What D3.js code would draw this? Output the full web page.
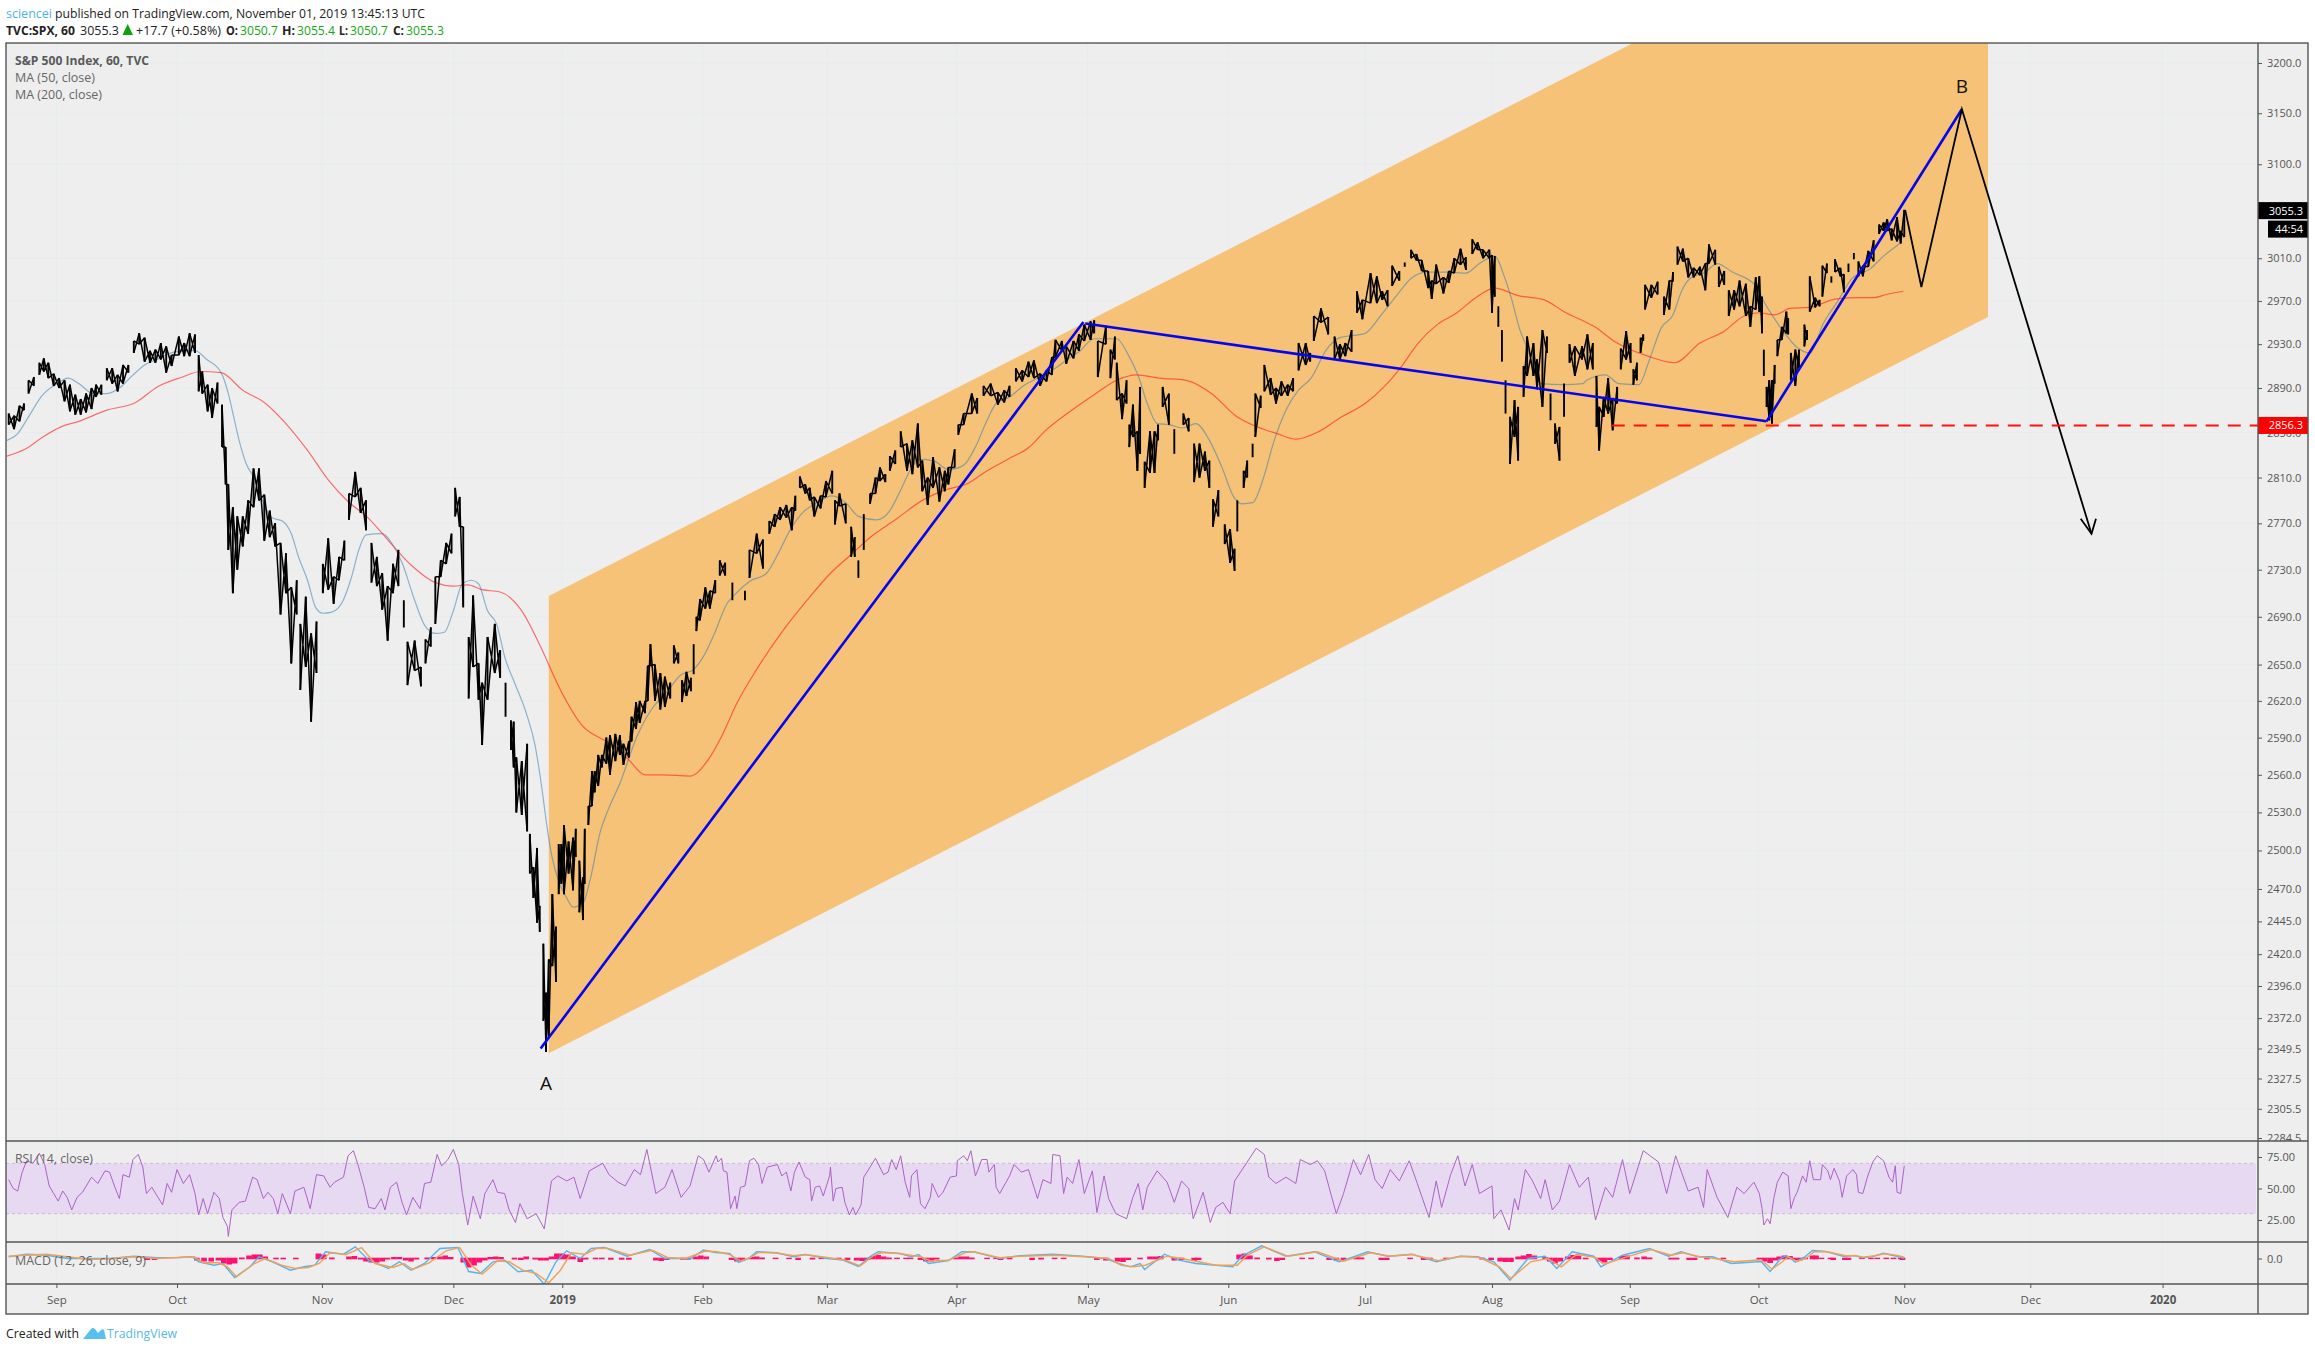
<!DOCTYPE html>
<html><head><meta charset="utf-8">
<script src="https://cdn.jsdelivr.net/npm/d3@7/dist/d3.min.js"></script>
<style>html,body{margin:0;padding:0;background:#fff}svg{display:block}text{font-family:"Open Sans",sans-serif}</style>
</head><body><svg id="c" width="2315" height="1351"></svg>
<script>
// ---- axis labels / ticks (x unit: hourly bar number since the left edge of the chart)
const monthBars=[56,190,351,497,618,774,912,1056,1202,1358,1510,1651,1804,1947,2109,2249,2396];
const monthLabels=["Sep","Oct","Nov","Dec","2019","Feb","Mar","Apr","May","Jun","Jul","Aug","Sep","Oct","Nov","Dec","2020"];
const priceTicks=[3200,3150,3100,3010,2970,2930,2890,2850,2810,2770,2730,2690,2650,2620,2590,2560,2530,2500,2470,2445,2420,2396,2372,2349.5,2327.5,2305.5,2284.5];
const rsiTicks=[75,50,25];
const macdTicks=[0];
// ---- sampled hourly price ranges: [bar, high, low]
const priceBars=[[3,2867,2857],[9,2865,2853],[15,2874,2860],[20,2876,2870],[25,2897,2885],[31,2900,2892],[37,2913,2902],[42,2917,2905],[47,2913,2899],[53,2903,2892],[59,2899,2890],[65,2897,2878],[71,2893,2869],[77,2884,2866],[83,2880,2866],[89,2885,2868],[95,2890,2871],[100,2893,2882],[106,2893,2884],[112,2908,2897],[118,2908,2894],[124,2902,2887],[130,2911,2894],[136,2911,2904],[142,2933,2922],[148,2940,2930],[154,2936,2914],[160,2924,2913],[166,2925,2913],[172,2931,2916],[178,2928,2904],[184,2920,2910],[192,2937,2920],[198,2931,2919],[204,2940,2919],[210,2939,2922],[214,2920,2887],[218,2905,2885],[224,2893,2869],[229,2890,2863],[235,2895,2876],[240,2875,2837],[244,2837,2804],[247,2804,2747],[252,2784,2710],[257,2776,2730],[263,2776,2750],[269,2790,2761],[275,2818,2784],[281,2818,2790],[287,2795,2755],[293,2781,2758],[299,2770,2750],[305,2753,2692],[311,2744,2710],[317,2715,2651],[323,2721,2692],[327,2684,2629],[333,2707,2648],[339,2676,2603],[345,2686,2643],[352,2735,2710],[358,2757,2713],[364,2724,2701],[370,2741,2721],[376,2755,2738],[381,2796,2773],[388,2815,2793],[394,2801,2779],[400,2790,2764],[406,2753,2719],[412,2741,2716],[418,2727,2696],[424,2716,2670],[430,2735,2710],[436,2747,2716],[442,2704,2681],[446,2669,2633],[454,2670,2645],[461,2648,2632],[466,2671,2651],[472,2681,2665],[477,2724,2684],[483,2738,2724],[489,2753,2735],[495,2761,2744],[499,2801,2776],[504,2793,2767],[508,2767,2698],[514,2673,2622],[519,2708,2648],[525,2651,2621],[529,2635,2584],[535,2673,2621],[543,2684,2643],[549,2662,2639],[555,2635,2607],[561,2604,2580],[564,2603,2566],[567,2574,2530],[573,2571,2528],[579,2585,2515],[582,2513,2482],[586,2487,2463],[590,2502,2444],[593,2457,2437],[597,2428,2370],[600,2391,2347],[603,2416,2358],[607,2466,2411],[611,2441,2399],[614,2505,2466],[617,2505,2474],[620,2520,2466],[625,2507,2482],[630,2510,2469],[633,2517,2495],[637,2492,2452],[641,2479,2446],[643,2517,2474],[647,2535,2520],[651,2563,2535],[654,2563,2546],[658,2576,2551],[662,2576,2566],[667,2590,2569],[671,2592,2560],[677,2593,2571],[682,2592,2576],[686,2585,2568],[692,2587,2574],[695,2607,2587],[700,2619,2597],[704,2620,2602],[710,2620,2610],[713,2649,2620],[716,2667,2649],[721,2650,2620],[727,2643,2613],[732,2640,2615],[738,2635,2622],[742,2666,2651],[747,2660,2651],[751,2637,2619],[756,2644,2624],[761,2639,2628],[764,2667,2642],[767,2690,2678],[771,2705,2687],[777,2715,2697],[782,2712,2697],[788,2721,2710],[793,2738,2725],[799,2736,2725],[807,2719,2704],[821,2712,2704],[826,2747,2723],[834,2761,2744],[841,2756,2731],[848,2772,2761],[854,2778,2767],[860,2784,2773],[867,2786,2775],[873,2784,2764],[877,2794,2781],[882,2811,2801],[888,2804,2796],[893,2801,2790],[898,2793,2776],[905,2794,2783],[911,2807,2793],[918,2816,2796],[921,2790,2769],[926,2796,2785],[933,2787,2770],[939,2767,2741],[943,2758,2741],[947,2738,2723],[953,2778,2747],[960,2796,2787],[966,2810,2796],[971,2819,2807],[977,2813,2806],[982,2829,2816],[988,2834,2822],[994,2851,2837],[1001,2840,2816],[1007,2843,2813],[1013,2858,2819],[1018,2825,2798],[1024,2810,2786],[1030,2828,2801],[1037,2819,2789],[1043,2816,2798],[1047,2819,2804],[1054,2835,2819],[1058,2857,2848],[1064,2867,2857],[1073,2885,2867],[1079,2881,2867],[1086,2892,2883],[1094,2894,2883],[1102,2886,2875],[1109,2888,2877],[1115,2892,2882],[1122,2908,2896],[1129,2906,2896],[1136,2914,2900],[1142,2915,2899],[1149,2903,2892],[1156,2906,2896],[1162,2918,2902],[1166,2934,2918],[1173,2933,2924],[1178,2928,2912],[1186,2933,2917],[1192,2939,2924],[1198,2948,2933],[1205,2951,2934],[1209,2952,2940],[1213,2933,2900],[1222,2947,2930],[1227,2925,2899],[1232,2937,2916],[1234,2913,2879],[1240,2885,2862],[1245,2897,2876],[1248,2857,2837],[1252,2875,2846],[1257,2851,2816],[1260,2891,2831],[1265,2824,2801],[1271,2851,2814],[1276,2851,2814],[1280,2857,2843],[1285,2891,2873],[1292,2885,2857],[1298,2853,2831],[1308,2867,2857],[1314,2863,2851],[1320,2840,2806],[1326,2840,2810],[1332,2833,2816],[1337,2825,2801],[1341,2791,2767],[1347,2799,2776],[1354,2769,2752],[1360,2765,2736],[1365,2748,2729],[1368,2790,2763],[1375,2816,2801],[1379,2825,2810],[1385,2840,2828],[1388,2885,2846],[1394,2883,2872],[1398,2911,2887],[1405,2899,2884],[1411,2890,2876],[1417,2896,2883],[1424,2893,2883],[1430,2899,2887],[1436,2931,2906],[1444,2931,2911],[1449,2922,2914],[1453,2956,2933],[1461,2963,2950],[1469,2955,2939],[1476,2937,2916],[1482,2930,2916],[1488,2931,2919],[1495,2943,2923],[1501,2979,2959],[1507,2971,2953],[1516,2996,2968],[1523,2993,2968],[1529,2979,2971],[1535,2980,2965],[1540,3003,2984],[1548,2998,2989],[1554,3006,3002],[1561,3018,3010],[1567,3014,3008],[1573,3008,2998],[1580,2998,2982],[1584,2989,2972],[1589,3004,2986],[1597,2992,2977],[1603,2998,2987],[1609,3010,2996],[1616,3019,3004],[1622,3011,2999],[1629,3028,3014],[1635,3025,3018],[1641,3018,3010],[1648,3018,3010],[1651,3013,2959],[1654,3012,2974],[1658,2965,2946],[1662,2943,2914],[1666,2897,2867],[1671,2864,2822],[1676,2879,2846],[1680,2873,2825],[1686,2910,2882],[1690,2937,2901],[1697,2931,2901],[1701,2916,2889],[1707,2943,2873],[1712,2937,2922],[1716,2885,2861],[1721,2858,2840],[1726,2855,2825],[1731,2894,2864],[1737,2930,2913],[1743,2928,2901],[1751,2928,2916],[1757,2939,2907],[1763,2931,2907],[1767,2901,2855],[1770,2873,2834],[1775,2882,2864],[1780,2899,2867],[1785,2881,2852],[1790,2891,2876],[1794,2926,2907],[1800,2942,2916],[1805,2931,2913],[1808,2907,2893],[1812,2913,2897],[1816,2936,2922],[1819,2939,2933],[1821,2985,2962],[1828,2985,2973],[1835,2988,2976],[1842,2974,2957],[1848,2989,2962],[1852,2997,2988],[1857,3021,3004],[1863,3019,3007],[1869,3010,2992],[1875,3001,2992],[1882,3002,2994],[1888,3005,2980],[1892,3023,3005],[1899,3018,3004],[1903,3002,2983],[1909,2998,2985],[1914,2980,2956],[1920,2980,2962],[1926,2989,2965],[1933,2986,2956],[1938,2965,2946],[1944,2992,2962],[1948,2993,2960],[1951,2974,2940],[1953,2925,2901],[1956,2891,2873],[1959,2897,2861],[1962,2897,2858],[1965,2911,2894],[1968,2934,2919],[1973,2946,2934],[1978,2960,2940],[1980,2954,2939],[1983,2922,2897],[1988,2925,2892],[1992,2925,2908],[1998,2948,2928],[2001,2943,2934],[2004,2993,2960],[2010,2973,2964],[2015,2971,2965],[2018,3003,2974],[2023,3005,2996],[2028,2993,2987],[2032,3009,2997],[2038,3001,2993],[2042,2995,2978],[2047,3005,2997],[2053,3015,3009],[2058,3007,2993],[2063,3003,2993],[2069,3017,3002],[2075,3027,3007],[2081,3042,3033],[2086,3044,3036],[2090,3047,3036],[2095,3038,3027],[2101,3049,3026],[2105,3036,3024],[2109,3056,3030]];
// ---- moving averages: [bar, value]
const ma50=[[1,2843],[13,2849],[25,2864],[41,2884],[55,2893],[69,2899],[81,2894],[97,2885],[112,2885],[126,2890],[140,2901],[154,2911],[168,2916],[188,2923],[210,2924],[223,2916],[239,2904],[247,2885],[253,2864],[259,2843],[267,2822],[277,2808],[285,2790],[295,2775],[307,2772],[317,2761],[325,2741],[335,2721],[344,2698],[352,2693],[362,2694],[374,2703],[384,2724],[392,2747],[400,2760],[418,2761],[430,2751],[440,2736],[454,2704],[465,2683],[477,2676],[487,2677],[497,2695],[507,2718],[517,2721],[525,2718],[535,2695],[545,2684],[555,2654],[565,2635],[578,2610],[588,2583],[595,2551],[601,2519],[606,2497],[614,2476],[623,2463],[630,2456],[641,2459],[649,2477],[660,2514],[669,2532],[682,2553],[701,2591],[719,2615],[734,2627],[749,2641],[764,2646],[775,2657],[786,2674],[801,2701],[810,2709],[826,2720],[845,2727],[858,2744],[871,2764],[886,2780],[899,2787],[918,2794],[933,2788],[947,2776],[967,2773],[981,2780],[994,2799],[1005,2817],[1015,2826],[1030,2825],[1047,2817],[1064,2821],[1077,2837],[1090,2861],[1100,2876],[1115,2882],[1132,2893],[1149,2900],[1164,2907],[1179,2916],[1192,2923],[1209,2935],[1222,2935],[1234,2935],[1247,2920],[1258,2901],[1268,2876],[1279,2858],[1292,2857],[1307,2854],[1322,2858],[1337,2843],[1351,2819],[1364,2793],[1373,2787],[1385,2788],[1396,2807],[1409,2843],[1422,2870],[1436,2888],[1450,2899],[1467,2925],[1482,2936],[1510,2940],[1527,2956],[1544,2974],[1561,2991],[1578,2997],[1603,2997],[1622,2996],[1637,3005],[1654,3012],[1665,2992],[1673,2971],[1682,2943],[1690,2927],[1705,2894],[1731,2893],[1752,2894],[1756,2897],[1777,2902],[1792,2894],[1814,2893],[1826,2916],[1839,2945],[1852,2957],[1862,2980],[1871,2991],[1888,2997],[1901,3005],[1918,2997],[1943,2985],[1956,2965],[1971,2946],[1990,2927],[2004,2922],[2019,2949],[2036,2971],[2051,2991],[2071,3000],[2086,3012],[2104,3024]];
const ma200=[[1,2829],[21,2835],[41,2846],[61,2855],[81,2860],[112,2870],[144,2877],[168,2891],[196,2900],[216,2905],[239,2904],[263,2888],[287,2877],[311,2858],[335,2834],[358,2808],[380,2789],[402,2775],[426,2754],[450,2734],[477,2719],[497,2716],[513,2717],[529,2713],[549,2711],[573,2695],[592,2668],[616,2629],[640,2600],[664,2588],[680,2581],[692,2572],[710,2560],[730,2560],[760,2559],[780,2572],[795,2591],[812,2618],[834,2646],[860,2675],[890,2704],[916,2727],[939,2743],[962,2759],[988,2773],[1018,2790],[1043,2799],[1069,2805],[1090,2816],[1115,2827],[1137,2837],[1154,2851],[1179,2867],[1209,2884],[1234,2897],[1256,2902],[1281,2899],[1311,2897],[1341,2884],[1366,2865],[1387,2856],[1412,2849],[1433,2844],[1459,2851],[1484,2864],[1510,2876],[1531,2891],[1548,2907],[1569,2931],[1590,2948],[1612,2959],[1633,2973],[1654,2982],[1680,2975],[1709,2971],[1731,2960],[1765,2946],[1790,2931],[1824,2919],[1854,2913],[1882,2931],[1909,2942],[1931,2956],[1948,2959],[1965,2957],[1982,2963],[2004,2964],[2034,2972],[2060,2973],[2075,2973],[2089,2976],[2108,2979]];
// ---- RSI (14): [bar, value]
const rsiSeries=[[3,57],[8,50],[13,48],[18,63],[23,72],[30,70],[37,78],[43,69],[48,52],[53,46],[58,40],[63,48],[68,43],[73,33],[79,43],[85,47],[95,59],[102,54],[110,64],[115,63],[121,51],[126,42],[130,61],[137,59],[141,73],[147,77],[152,67],[156,46],[162,51],[168,44],[174,37],[179,54],[184,47],[190,65],[197,54],[204,61],[210,46],[214,29],[219,42],[224,30],[231,47],[237,42],[241,27],[246,20],[247,12],[251,33],[259,39],[266,40],[274,59],[279,57],[286,42],[291,47],[297,42],[302,30],[307,46],[316,30],[321,48],[331,51],[338,34],[345,61],[353,60],[360,51],[365,55],[375,59],[380,76],[386,80],[391,69],[398,51],[403,35],[410,34],[417,42],[421,33],[427,51],[434,55],[440,39],[445,29],[452,43],[460,34],[465,54],[472,55],[479,77],[484,68],[491,73],[497,81],[503,69],[507,46],[513,21],[519,44],[527,26],[532,46],[541,57],[546,47],[554,46],[559,33],[566,23],[571,38],[579,26],[589,30],[598,18],[606,56],[613,60],[623,56],[631,59],[638,42],[648,64],[663,70],[670,61],[680,55],[688,52],[698,65],[705,61],[712,81],[722,46],[732,51],[740,65],[750,43],[760,52],[769,76],[775,73],[781,63],[789,76],[791,71],[795,74],[797,64],[801,63],[805,34],[810,44],[812,34],[816,51],[821,52],[826,72],[831,74],[836,69],[840,54],[843,61],[846,67],[857,69],[862,60],[867,63],[872,48],[876,63],[881,71],[888,59],[893,57],[895,40],[899,51],[904,52],[908,44],[915,60],[916,67],[919,40],[922,50],[929,51],[932,39],[937,29],[941,35],[944,29],[950,37],[953,59],[960,67],[966,74],[975,61],[980,63],[984,73],[989,65],[994,76],[999,55],[1004,43],[1006,60],[1012,65],[1016,38],[1021,34],[1027,43],[1029,54],[1036,43],[1041,47],[1049,59],[1056,60],[1057,72],[1064,76],[1068,72],[1072,80],[1077,60],[1080,65],[1084,73],[1090,73],[1092,63],[1098,69],[1100,51],[1104,46],[1115,60],[1120,69],[1128,63],[1136,65],[1146,42],[1152,57],[1161,54],[1163,77],[1171,76],[1175,46],[1179,59],[1185,54],[1192,73],[1198,46],[1207,64],[1212,31],[1220,60],[1225,42],[1233,30],[1245,26],[1252,43],[1258,54],[1263,33],[1268,51],[1279,64],[1290,55],[1298,39],[1306,56],[1314,50],[1319,26],[1330,47],[1338,23],[1344,35],[1352,39],[1360,30],[1365,56],[1379,71],[1389,82],[1398,77],[1403,59],[1411,54],[1422,59],[1433,54],[1438,73],[1449,69],[1457,72],[1465,64],[1473,43],[1478,30],[1486,46],[1497,73],[1505,61],[1514,77],[1521,57],[1529,50],[1538,65],[1548,56],[1559,72],[1568,54],[1581,27],[1589,56],[1595,35],[1605,61],[1613,76],[1621,52],[1629,69],[1637,46],[1651,52],[1653,26],[1661,33],[1670,17],[1676,42],[1680,33],[1688,65],[1696,56],[1705,42],[1710,57],[1718,33],[1726,40],[1737,69],[1748,51],[1758,59],[1766,25],[1777,51],[1785,43],[1796,73],[1804,46],[1819,80],[1836,71],[1845,46],[1855,76],[1869,48],[1880,51],[1886,35],[1890,65],[1901,43],[1913,27],[1923,51],[1931,46],[1942,55],[1948,46],[1951,34],[1953,21],[1957,26],[1960,22],[1964,42],[1968,55],[1974,63],[1980,60],[1983,34],[1987,43],[1990,47],[1996,60],[2000,55],[2004,72],[2008,57],[2016,57],[2018,69],[2024,64],[2027,57],[2031,66],[2037,56],[2040,43],[2045,60],[2052,65],[2056,61],[2058,47],[2063,46],[2068,59],[2074,71],[2079,76],[2086,72],[2092,59],[2096,55],[2099,68],[2101,47],[2105,46],[2109,68]];
// ---- MACD (12,26,9): [bar, value]
const macdLine=[[3,1.7],[23,4.3],[45,3.3],[68,0],[93,0],[117,0],[142,2.3],[167,.7],[192,1],[207,1.7],[214,-3.3],[231,-6.7],[241,-5],[254,-19],[271,-8.3],[281,1.7],[296,-3.3],[316,-11.7],[331,-8.3],[343,-6.7],[355,6.7],[375,4.3],[388,11.7],[403,-1.7],[425,-10],[437,-3.3],[450,-11.7],[465,-5],[482,10],[502,11],[514,-13],[527,-15],[541,-3.3],[554,-1.7],[569,-13.3],[584,-11.7],[598,-25.7],[611,-3.3],[623,7.7],[638,0],[650,10],[665,11],[690,2.3],[715,9],[732,0],[750,0],[760,-.5],[775,8.5],[788,6],[804,5],[814,-4],[825,0],[834,6.8],[856,5.8],[875,1.8],[888,4],[912,0],[930,-1.5],[947,-8],[960,2],[969,6.8],[993,5],[1006,1.8],[1014,4],[1025,-5],[1047,-2],[1062,6.8],[1075,6.8],[1104,0],[1126,2.7],[1163,4.3],[1196,2.3],[1222,0],[1236,-5],[1249,-8.3],[1260,-5],[1265,-11],[1287,4.3],[1303,-1.7],[1322,-5],[1344,-6.7],[1363,-8.3],[1373,2.3],[1395,12.7],[1422,2.3],[1454,6.7],[1481,-3.3],[1513,6.7],[1535,2.3],[1562,4.3],[1589,-3.3],[1616,2.3],[1635,1.7],[1653,-3.3],[1671,-21.7],[1691,0],[1710,2.3],[1723,-10],[1740,6.7],[1764,2.3],[1772,-8.3],[1796,3.3],[1826,10],[1847,2.3],[1861,6.7],[1880,1.7],[1896,1.7],[1917,-5],[1950,-3],[1960,-13],[1972,.3],[1978,3],[1988,-3.7],[1998,1.3],[2007,8],[2022,7],[2042,2],[2054,3],[2062,.7],[2074,2],[2086,5.3],[2098,2.7],[2109,.3]];
const macdSignal=[[3,2.3],[23,3.3],[45,4.3],[68,1.7],[93,-1],[117,0],[142,1.7],[167,0],[192,1],[209,1.7],[219,-4.3],[236,-4.3],[246,-8.3],[256,-18.3],[276,-5],[288,0],[306,-6.7],[321,-10],[336,-9],[348,-5],[360,5.7],[378,4],[395,11],[410,-5],[430,-9],[442,-5],[452,-11],[470,-4.3],[489,7.7],[504,11],[517,-6.7],[529,-15.7],[546,-2.3],[559,-3.3],[574,-11.7],[589,-15],[603,-24.3],[616,-11.7],[628,5.7],[643,4.3],[656,10],[668,10.3],[693,3.3],[718,8.3],[735,1],[755,0],[777,7.5],[790,6.8],[804,4],[816,-2.5],[827,.8],[836,6],[856,5.5],[875,2.8],[888,4],[914,.8],[932,-1.5],[949,-7.5],[964,3],[973,6],[993,5],[1008,2.8],[1016,2],[1027,-2.5],[1047,-1.8],[1066,6],[1075,6.8],[1104,.8],[1126,2.3],[1166,3.3],[1198,1.7],[1225,0],[1239,-6.7],[1252,-8.3],[1266,-6.7],[1290,2.3],[1306,0],[1325,-3.3],[1344,-6.7],[1368,-6.7],[1379,3.3],[1398,11.7],[1424,2.3],[1457,6.7],[1486,-2.7],[1516,5.7],[1538,2.3],[1562,4],[1591,-2.3],[1616,2.3],[1637,1],[1659,-8.3],[1672,-20],[1694,-3.3],[1713,0],[1728,-8.3],[1745,4.3],[1766,1],[1775,-5.7],[1801,1.7],[1828,9],[1850,3.3],[1863,5.7],[1882,1.7],[1898,0],[1920,-3.3],[1950,-1.3],[1962,-10.7],[1974,-3],[1980,2],[1990,-3],[2000,.3],[2009,6.7],[2023,6.7],[2044,2.7],[2055,2.7],[2064,1.3],[2076,2.7],[2087,4.7],[2100,3.3],[2109,1.3]];
const macdHist=[[157,-1.5],[165,-1.5],[212,-2],[220,-3],[228,-3],[236,-2],[242,-5],[248,-6],[254,-5],[262,1],[270,3],[276,4],[282,4],[288,2],[300,-.8],[308,-.8],[322,.8],[347,5],[353,4],[362,1],[381,2],[387,2.5],[394,-1],[400,-3],[406,-4],[412,-4],[418,-3],[424,-1],[431,1.5],[437,1.5],[444,-2],[450,-3],[456,-1],[468,1],[475,1.5],[482,2],[488,3],[494,1.5],[508,-4],[514,-9],[520,-7],[526,-4],[532,-2],[538,1.5],[544,2],[550,1.5],[565,-1],[572,-1.5],[578,2],[588,-1],[594,-2],[600,-2],[606,2],[612,5],[618,5],[624,4],[630,2],[638,-3.5],[644,-1],[655,.8],[662,.8],[672,-1.2],[684,-1.2],[692,-1.2],[722,-2],[728,-2.5],[734,-1.5],[752,-1.2],[758,-1.2],[766,2],[772,3],[778,2],[806,-1.5],[812,-3],[818,-2.5],[828,1.5],[834,2],[840,1],[855,.6],[870,-.6],[880,-1.5],[896,-1],[906,-.6],[925,-1],[935,-1.5],[945,-2],[951,-2.5],[957,-1.5],[963,2.5],[969,3.5],[975,2],[981,1],[990,-.6],[1000,.6],[1005,-.6],[1016,-1.5],[1022,-3],[1028,-3],[1034,-1],[1055,1],[1061,2],[1067,2],[1073,1],[1090,-.6],[1100,-.6],[1105,-1.5],[1115,-.8],[1140,-1.5],[1150,-1],[1165,.6],[1175,-.6],[1212,-1.5],[1222,-2],[1235,-3],[1241,-3.5],[1247,-1.5],[1260,.8],[1271,2],[1277,2],[1283,2.5],[1298,-2],[1306,-1.5],[1320,-2.5],[1325,-1.5],[1370,4],[1376,5],[1382,3],[1390,1],[1403,-1],[1412,-2.5],[1418,-1.5],[1440,-.6],[1450,.6],[1470,-1.5],[1478,-2],[1486,-1.5],[1500,2],[1506,1],[1528,-1.5],[1534,-1.5],[1560,.6],[1575,-1.5],[1582,-1.5],[1600,.6],[1640,-1],[1650,-1.5],[1660,-3],[1666,-3.5],[1672,-3.5],[1680,2],[1686,3],[1692,4.5],[1698,3],[1710,1.5],[1715,-3],[1721,-5],[1727,-3],[1735,2],[1741,3.5],[1747,3],[1755,.8],[1770,-3],[1776,-4],[1782,-1.5],[1795,2.5],[1801,3],[1812,1],[1820,2],[1826,1],[1850,-1],[1856,-1],[1870,-1.5],[1876,-1.5],[1890,.8],[1908,-.6],[1948,-1.5],[1954,-3],[1960,-4.5],[1966,-2],[1970,2],[1976,3],[1982,2.5],[1987,-1.5],[1993,-2],[1999,1],[2007,3],[2011,3],[2017,.6],[2027,-.6],[2030,-1.5],[2043,-1.5],[2047,-1.5],[2062,-.6],[2072,-.6],[2079,.6],[2089,.6],[2097,-.6],[2105,-.6],[2107,-1.5]];
// ---- hand-drawn chart annotations: [bar, price]
const channelCorners=[[603,2707.5],[2202,3408],[2202,2955],[603,2346]];
const blueLegUp=[[594,2349.5],[1197,2950.5]];
const blueLegDown=[[1199,2949],[1956,2860]];
const blueLegB=[[1956,2860],[2173,3154]];
const projectionPath=[[2110,3056],[2128,2983],[2173,3154],[2317,2761]];
const arrowBarbs=[[2305,2774],[2317,2761],[2322,2774]];
const supportLevel=2856.3, supportStartBar=1784;
const lastPrice=3055.3;
const waveLabels=[["A",600,2319],["B",2173,3170]];

// ---- layout
const L=6,R=2258,RR=2308,T=43,B=1141,RB=1242,MB=1284,AB=1314;
const svg=d3.select("#c");
const x=d3.scaleLinear().domain([0,2502]).range([L,R]);
const y=d3.scaleLog().domain([2284.5,3200]).range([1138,63]);
const yR=d3.scaleLinear().domain([25,75]).range([1220,1157]);
const yM=d3.scaleLinear().domain([-25.5,16.5]).range([1284,1242]);
const INK="#555", GRID="#e6ecee", PANE="#eeeeee";
const defs=svg.append("defs");
[["clipMain",T,B],["clipRsi",B,RB],["clipMacd",RB,MB]].forEach(([id,a,b])=>{
  defs.append("clipPath").attr("id",id).append("rect").attr("x",L).attr("y",a).attr("width",R-L).attr("height",b-a);});
defs.append("clipPath").attr("id","clipAxis").append("rect").attr("x",R).attr("y",T).attr("width",RR-R).attr("height",B-T);

svg.append("rect").attr("x",L).attr("y",T).attr("width",RR-L).attr("height",AB-T).attr("fill",PANE);
// grid
const grid=svg.append("g").attr("stroke",GRID).attr("stroke-width",1);
grid.selectAll(".v").data(monthBars).join("line").attr("x1",d=>x(d)).attr("x2",d=>x(d)).attr("y1",T).attr("y2",MB);
grid.selectAll(".h").data(priceTicks).join("line").attr("x1",L).attr("x2",R).attr("y1",d=>y(d)).attr("y2",d=>y(d));

// main pane
const main=svg.append("g").attr("clip-path","url(#clipMain)");
main.append("path").attr("d",d3.line().x(d=>x(d[0])).y(d=>y(d[1]))(channelCorners)+"Z").attr("fill","#f6c278");
const pl=d3.line().x(d=>x(d[0])).y(d=>y(d[1]));
const smooth=d3.line().curve(d3.curveMonotoneX).x(d=>x(d[0])).y(d=>y(d[1]));
main.append("path").attr("d",smooth(ma50)).attr("fill","none").attr("stroke","#2a78ad").attr("stroke-opacity",.5).attr("stroke-width",1.2);
main.append("path").attr("d",smooth(ma200)).attr("fill","none").attr("stroke","#ff1f1f").attr("stroke-opacity",.62).attr("stroke-width",1.2);
// price bars: thin high-low lines, woven together with the neighbour when their ranges overlap
main.append("g").attr("stroke","#000").attr("stroke-width",1.9).selectAll("line").data(priceBars).join("line")
  .attr("x1",d=>x(d[0])).attr("x2",d=>x(d[0])).attr("y1",d=>y(d[1])).attr("y2",d=>y(d[2]));
const links=d3.pairs(priceBars).filter(([a,b])=>a[2]<=b[1]&&b[2]<=a[1]&&b[0]-a[0]<=10);
main.append("g").attr("stroke","#000").attr("stroke-width",1.5).selectAll("path").data(links).join("path").attr("fill","none")
  .attr("d",([a,b])=>`M${x(a[0])},${y(a[1])}L${x(b[0])},${y(b[2])}M${x(a[0])},${y(a[2])}L${x(b[0])},${y(b[1])}`);
[blueLegUp,blueLegDown,blueLegB].forEach(s=>main.append("path").attr("d",pl(s)).attr("fill","none").attr("stroke","#0505ee").attr("stroke-width",2.6));
main.append("path").attr("d",pl(projectionPath)).attr("fill","none").attr("stroke","#000").attr("stroke-width",1.8);
main.append("path").attr("d",pl(arrowBarbs)).attr("fill","none").attr("stroke","#000").attr("stroke-width",1.8);
main.append("line").attr("x1",x(supportStartBar)).attr("x2",R).attr("y1",y(supportLevel)).attr("y2",y(supportLevel))
  .attr("stroke","#ff1010").attr("stroke-width",2).attr("stroke-dasharray","13 9");
main.selectAll(".wave").data(waveLabels).join("text").attr("x",d=>x(d[1])).attr("y",d=>y(d[2])).attr("text-anchor","middle")
  .attr("font-size",19).attr("fill","#111").text(d=>d[0]);

// RSI
const rsiG=svg.append("g").attr("clip-path","url(#clipRsi)");
rsiG.append("rect").attr("x",L).attr("width",R-L-2).attr("y",yR(70)).attr("height",yR(30)-yR(70)).attr("fill","#e6d9f1");
[70,30].forEach(v=>rsiG.append("line").attr("x1",L).attr("x2",R-2).attr("y1",yR(v)).attr("y2",yR(v)).attr("stroke","#c9bccf").attr("stroke-dasharray","3 3"));
rsiG.append("path").attr("d",d3.line().x(d=>x(d[0])).y(d=>yR(d[1]))(rsiSeries)).attr("fill","none").attr("stroke","#ad62c6").attr("stroke-width",1);

// MACD
const mG=svg.append("g").attr("clip-path","url(#clipMacd)");
mG.selectAll("rect").data(macdHist).join("rect").attr("x",d=>x(d[0])-2.8).attr("width",5.6)
  .attr("y",d=>Math.min(yM(d[1]),yM(0)-.8)).attr("height",d=>Math.abs(yM(d[1])-yM(0))+.8).attr("fill","#ff1170");
const ml=d3.line().x(d=>x(d[0])).y(d=>yM(d[1]));
mG.append("path").attr("d",ml(macdLine)).attr("fill","none").attr("stroke","#55b4ee").attr("stroke-width",1.4);
mG.append("path").attr("d",ml(macdSignal)).attr("fill","none").attr("stroke","#f2a058").attr("stroke-width",1.4);

// axes
function styleAxis(g){g.select(".domain").remove();g.selectAll("line").attr("stroke",INK);g.selectAll("text").attr("fill",INK).attr("font-size",11).attr("font-family",'"Open Sans",sans-serif');}
svg.append("g").attr("clip-path","url(#clipAxis)").append("g").attr("transform",`translate(${R},0)`)
  .call(d3.axisRight(y).tickValues(priceTicks).tickFormat(d3.format(".1f")).tickSize(4).tickPadding(5)).call(styleAxis);
svg.append("g").attr("transform",`translate(${R},0)`).call(d3.axisRight(yR).tickValues(rsiTicks).tickFormat(d3.format(".2f")).tickSize(4).tickPadding(5)).call(styleAxis);
svg.append("g").attr("transform",`translate(${R},0)`).call(d3.axisRight(yM).tickValues(macdTicks).tickFormat(d3.format(".1f")).tickSize(4).tickPadding(5)).call(styleAxis);
const xa=svg.append("g").attr("transform",`translate(0,${MB})`).call(d3.axisBottom(x).tickValues(monthBars).tickFormat((d,i)=>monthLabels[i]).tickSize(4).tickPadding(8)).call(styleAxis);
xa.selectAll("text").attr("font-size",11.5).attr("font-weight",(d,i)=>/^20/.test(monthLabels[i])?"700":"400");

// price tags
function tag(x0,y0,w,h,fill,txt){svg.append("rect").attr("x",x0).attr("y",y0).attr("width",w).attr("height",h).attr("fill",fill);
  svg.append("text").attr("x",x0+w-5).attr("y",y0+h/2+4).attr("text-anchor","end").attr("font-size",11).attr("fill","#fff").text(txt);}
tag(R,y(lastPrice)-8.5,RR-R,17,"#000",d3.format(".1f")(lastPrice));
tag(R+10,y(lastPrice)+10,RR-R-10,17,"#000","44:54");
tag(R,y(supportLevel)-8.5,RR-R,17,"#ff0000",d3.format(".1f")(supportLevel));

// frame
const fr=svg.append("g").attr("stroke",INK).attr("stroke-width",1.4).attr("fill","none");
fr.append("rect").attr("x",L).attr("y",T).attr("width",RR-L).attr("height",AB-T);
[B,RB,MB].forEach(v=>fr.append("line").attr("x1",L).attr("x2",RR).attr("y1",v).attr("y2",v));
fr.append("line").attr("x1",R).attr("x2",R).attr("y1",T).attr("y2",AB);

// texts
function t(px,py,s,o={}){const e=svg.append("text").attr("x",px).attr("y",py).attr("font-size",o.size||13).attr("fill",o.fill||"#222").attr("font-weight",o.w||400).text(s);
  if(o.len)e.attr("textLength",o.len).attr("lengthAdjust","spacingAndGlyphs");return e;}
t(6,18,"sciencei",{fill:"#4db2e6",len:46});
t(55,18,"published on TradingView.com, November 01, 2019 13:45:13 UTC",{len:370});
t(6,35,"TVC:SPX, 60",{w:700,len:69});
t(80,35,"3055.3",{len:39});
svg.append("path").attr("d","M122.5 35L133 35L127.7 24Z").attr("fill","#0ca30c");
t(136,35,"+17.7 (+0.58%)",{len:85});
const GREEN="#15a815";
[["O:",226,12,"3050.7",240],["H:",282,13,"3055.4",297],["L:",339,9,"3050.7",350],["C:",393,11,"3055.3",406]].forEach(r=>{
  t(r[1],35,r[0],{w:700,len:r[2]});t(r[4],35,r[3],{fill:GREEN,len:38});});
t(15,65,"S&P 500 Index, 60, TVC",{w:700,fill:"#5a5a5a",size:12.5,len:134});
t(15,82,"MA (50, close)",{fill:"#666",size:12.5,len:80});
t(15,99,"MA (200, close)",{fill:"#666",size:12.5,len:87});
t(15,1163,"RSI (14, close)",{fill:"#666",size:12.5,len:78});
t(15,1265,"MACD (12, 26, close, 9)",{fill:"#666",size:12.5,len:131});
t(6,1338,"Created with",{fill:"#222",size:13,len:73});
svg.append("path").attr("d","M83 1339L91 1329Q93 1327 95 1329L98 1333L101 1330Q102.5 1328.5 104 1330L106 1339Z").attr("fill","#58c0ee");
t(107,1338,"TradingView",{fill:"#58b8e8",size:13,len:70});
</script></body></html>
